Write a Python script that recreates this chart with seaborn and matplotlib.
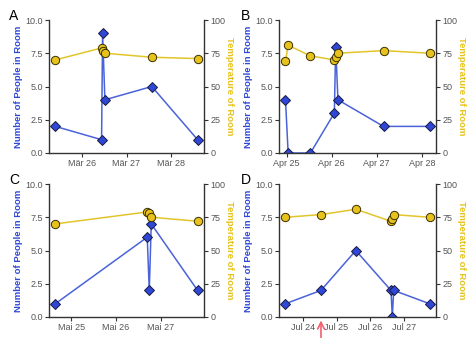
import matplotlib
matplotlib.use("Agg")
import matplotlib.pyplot as plt
import matplotlib.dates as mdates
from matplotlib.ticker import FuncFormatter, MultipleLocator
import seaborn as sns
import pandas as pd
import numpy as np

sns.set_theme(style="white")
plt.rcParams['font.family'] = ['Liberation Sans', 'DejaVu Sans']

# ---- data (times as day offsets from a reference date) ----
ref_A = "2021-03-26"
times_A = [-0.59, 0.443, 0.465, 0.517, 1.566, 2.59]
people_A = [2, 1, 9, 4, 5, 1]
temp_A = [70, 79, 77, 75, 72, 71]

ref_B = "2021-04-25"
times_B = [-0.023, 0.036, 0.53, 1.06, 1.09, 1.14, 2.15, 3.17]
people_B = [4, 0, 0, 3, 8, 4, 2, 2]
temp_B = [69, 81, 73, 70, 72, 75, 77, 75]

ref_C = "2021-05-25"
times_C = [-0.36, 1.70, 1.746, 1.79, 2.83]
people_C = [1, 6, 2, 7, 2]
temp_C = [70, 79, 78, 75, 72]

ref_D = "2021-07-24"
times_D = [-0.51, 0.54, 1.57, 2.61, 2.65, 2.69, 3.75]
people_D = [1, 2, 5, 2, 0, 2, 1]
temp_D = [75, 77, 81, 72, 74, 77, 75]

panel_labels = ["A", "B", "C", "D"]
arrow_time_D = 0.54

german_months = {1: "Jan", 2: "Feb", 3: "Mär", 4: "Apr", 5: "Mai", 6: "Jun",
                 7: "Jul", 8: "Aug", 9: "Sep", 10: "Okt", 11: "Nov", 12: "Dez"}

BLUE = "#2f47d6"
BLUE_LINE = "#4a63d8"
GOLD = "#e7c21c"
GOLD_LINE = "#e3c52a"
SPINE = "#333333"
TICKC = "#555555"

fig = plt.figure(figsize=(4.74, 3.38), dpi=100)
W, H = 474, 338
boxes = [(49, 20, 204, 153), (279, 20, 436, 153), (49, 184, 204, 317), (279, 184, 436, 317)]
datasets = [(ref_A, times_A, people_A, temp_A), (ref_B, times_B, people_B, temp_B),
            (ref_C, times_C, people_C, temp_C), (ref_D, times_D, people_D, temp_D)]
letter_pos = [(9, 16), (241, 16), (9, 180), (241, 180)]

def fmt(x, pos):
    d = mdates.num2date(x)
    return f"{german_months[d.month]} {d.day}"

for i, ((l, t, r, b), (ref, times, people, temp)) in enumerate(zip(boxes, datasets)):
    ax = fig.add_axes([l / W, 1 - b / H, (r - l) / W, (b - t) / H])
    base = pd.Timestamp(ref)
    dt = [base + pd.Timedelta(days=x) for x in times]
    df = pd.DataFrame({"time": dt, "people": people, "temp": temp})
    sns.lineplot(data=df, x="time", y="people", ax=ax, color=BLUE_LINE, lw=1.1,
                 sort=False, estimator=None, marker="D", markersize=5.5,
                 markerfacecolor=BLUE, markeredgecolor="#1a1a40", markeredgewidth=0.7)
    ax.margins(x=0.045)
    ax.set_ylim(0, 10)
    ax.yaxis.set_major_locator(MultipleLocator(2.5))
    ax.yaxis.set_major_formatter(FuncFormatter(lambda v, p: f"{v:.1f}"))
    ax.xaxis.set_major_locator(mdates.DayLocator())
    ax.xaxis.set_major_formatter(FuncFormatter(fmt))
    ax.set_xlabel("")
    ax.set_ylabel("Number of People in Room", color=BLUE, fontsize=6.8, fontweight="bold", labelpad=1.5)
    ax2 = ax.twinx()
    sns.lineplot(data=df, x="time", y="temp", ax=ax2, color=GOLD_LINE, lw=1.1,
                 sort=False, estimator=None, marker="o", markersize=6,
                 markerfacecolor=GOLD, markeredgecolor="#3a3000", markeredgewidth=0.7)
    ax2.set_ylim(0, 100)
    ax2.yaxis.set_major_locator(MultipleLocator(25))
    ax2.set_ylabel("Temperature of Room", color=GOLD, fontsize=6.8, fontweight="bold",
                   rotation=270, labelpad=6)
    for a in (ax, ax2):
        a.spines["top"].set_visible(False)
        for s in ("left", "right", "bottom"):
            a.spines[s].set_color(SPINE)
            a.spines[s].set_linewidth(1.0)
        a.tick_params(axis="both", which="major", length=3, width=0.8, color=SPINE,
                      labelsize=6.5, labelcolor=TICKC, pad=1.5,
                      left=(a is ax), bottom=(a is ax), right=(a is ax2))
    ax.spines["right"].set_visible(False)
    ax2.spines["left"].set_visible(False)
    ax2.spines["bottom"].set_visible(False)
    fig.text(letter_pos[i][0] / W, 1 - letter_pos[i][1] / H, panel_labels[i],
             fontsize=10, ha="left", va="center", color="black")
    if i == 3:
        xa = mdates.date2num(base + pd.Timedelta(days=arrow_time_D))
        ax.annotate("", xy=(xa, -0.05), xytext=(xa, -1.75), xycoords=("data", "data"),
                    annotation_clip=False,
                    arrowprops=dict(arrowstyle="->", color="#f0606e", lw=1.2))

fig.savefig("out.png", dpi=100)
